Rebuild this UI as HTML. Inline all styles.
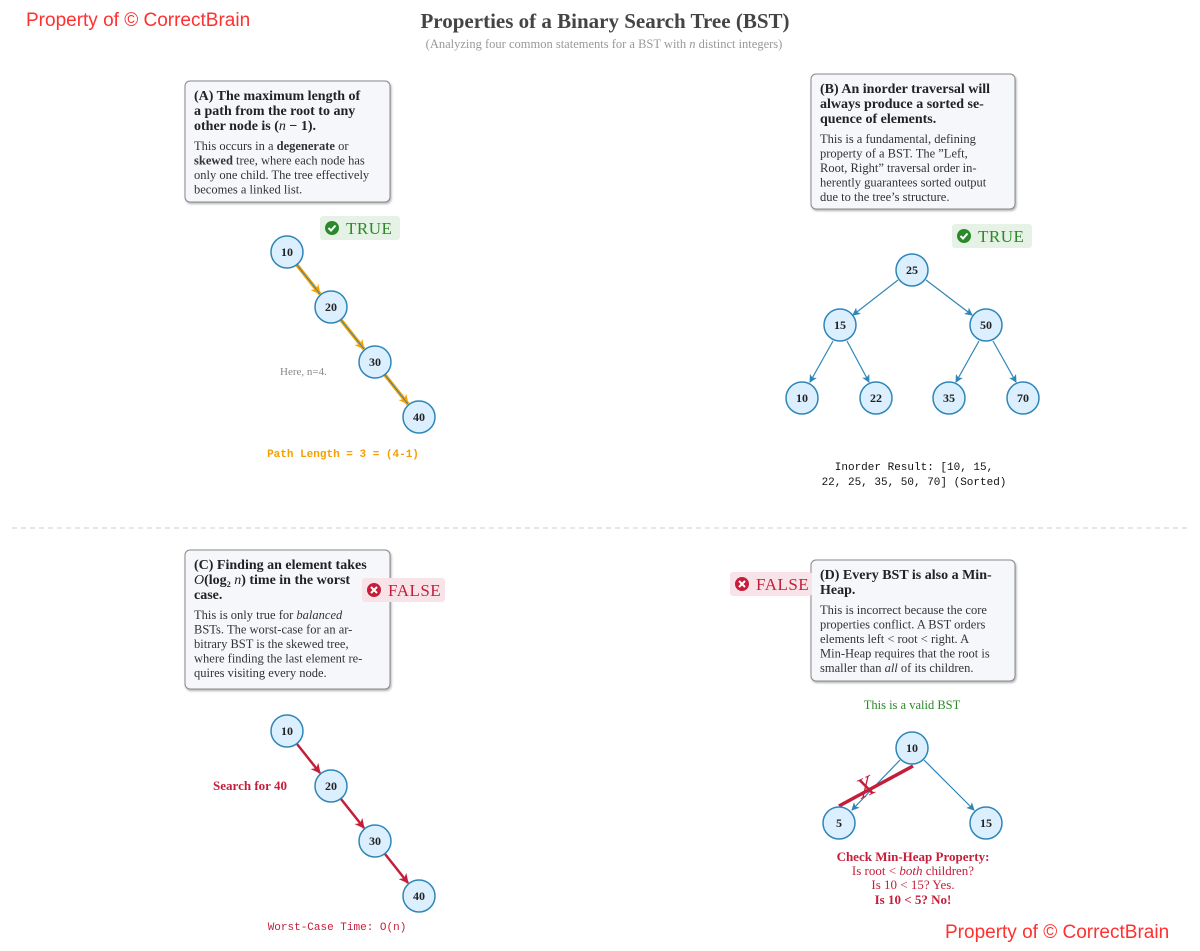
<!DOCTYPE html>
<html><head><meta charset="utf-8"><style>
body{margin:0;background:#fff;}
svg text{font-family:"Liberation Serif",serif;}
</style></head><body>
<svg width="1200" height="946" viewBox="0 0 1200 946" xmlns="http://www.w3.org/2000/svg">
<defs>
<marker id="ab" markerWidth="8" markerHeight="8" refX="7" refY="4" orient="auto" markerUnits="userSpaceOnUse"><path d="M0,0 L8,4 L0,8 L2,4z" fill="#2e86b8"/></marker>
<marker id="ao" markerWidth="10" markerHeight="10" refX="9" refY="5" orient="auto" markerUnits="userSpaceOnUse"><path d="M0,0 L10,5 L0,10 L3,5z" fill="#f5a000"/></marker>
<marker id="ar" markerWidth="10" markerHeight="10" refX="9" refY="5" orient="auto" markerUnits="userSpaceOnUse"><path d="M0,0 L10,5 L0,10 L3,5z" fill="#c41e3a"/></marker>
<filter id="sh"><feDropShadow dx="1" dy="1.5" stdDeviation="1" flood-opacity="0.3"/></filter>
</defs>
<text x="26" y="26" font-size="19" fill="#ff3030" style="font-family:'Liberation Sans',sans-serif">Property of © CorrectBrain</text>
<text x="945" y="938" font-size="19" fill="#ff3030" style="font-family:'Liberation Sans',sans-serif">Property of © CorrectBrain</text>
<text x="605" y="28" text-anchor="middle" font-size="21" font-weight="bold" fill="#444">Properties of a Binary Search Tree (BST)</text>
<text x="604" y="48" text-anchor="middle" font-size="12.5" fill="#999">(Analyzing four common statements for a BST with <tspan font-style="italic">n</tspan> distinct integers)</text>
<line x1="12" y1="528" x2="1188" y2="528" stroke="#ccc" stroke-dasharray="5,4"/>

<g fill="#f5f7fb" stroke="#888" filter="url(#sh)">
<rect x="185" y="81" width="205" height="121" rx="5"/>
<rect x="811" y="74" width="204" height="135" rx="5"/>
<rect x="185" y="550" width="205" height="139" rx="5"/>
<rect x="811" y="560" width="204" height="121" rx="5"/>
</g>
<g font-size="14" fill="#222">
<text x="194" y="100" font-weight="bold"><tspan>(A) The maximum length of</tspan><tspan x="194" dy="15">a path from the root to any</tspan><tspan x="194" dy="15">other node is (<tspan font-style="italic" font-weight="normal">n</tspan> − 1).</tspan></text>
<text x="194" y="150" font-size="12.5" fill="#333"><tspan>This occurs in a <tspan font-weight="bold">degenerate</tspan> or</tspan><tspan x="194" dy="14.5"><tspan font-weight="bold">skewed</tspan> tree, where each node has</tspan><tspan x="194" dy="14.5">only one child.  The tree effectively</tspan><tspan x="194" dy="14.5">becomes a linked list.</tspan></text>

<text x="820" y="93" font-weight="bold"><tspan>(B) An inorder traversal will</tspan><tspan x="820" dy="15">always produce a sorted se-</tspan><tspan x="820" dy="15">quence of elements.</tspan></text>
<text x="820" y="143" font-size="12.5" fill="#333"><tspan>This is a fundamental, defining</tspan><tspan x="820" dy="14.5">property of a BST. The ”Left,</tspan><tspan x="820" dy="14.5">Root, Right” traversal order in-</tspan><tspan x="820" dy="14.5">herently guarantees sorted output</tspan><tspan x="820" dy="14.5">due to the tree’s structure.</tspan></text>

<text x="194" y="569" font-weight="bold"><tspan>(C) Finding an element takes</tspan><tspan x="194" dy="15" font-style="italic" font-weight="normal">O</tspan><tspan>(log</tspan><tspan font-size="8" dy="3">2</tspan><tspan dy="-3"> </tspan><tspan font-style="italic" font-weight="normal">n</tspan><tspan>) time in the worst</tspan><tspan x="194" dy="15">case.</tspan></text>
<text x="194" y="619" font-size="12.5" fill="#333"><tspan>This is only true for <tspan font-style="italic">balanced</tspan></tspan><tspan x="194" dy="14.5">BSTs.  The worst-case for an ar-</tspan><tspan x="194" dy="14.5">bitrary BST is the skewed tree,</tspan><tspan x="194" dy="14.5">where finding the last element re-</tspan><tspan x="194" dy="14.5">quires visiting every node.</tspan></text>

<text x="820" y="579" font-weight="bold"><tspan>(D) Every BST is also a Min-</tspan><tspan x="820" dy="15">Heap.</tspan></text>
<text x="820" y="614" font-size="12.5" fill="#333"><tspan>This is incorrect because the core</tspan><tspan x="820" dy="14.5">properties conflict.  A BST orders</tspan><tspan x="820" dy="14.5">elements left &lt; root &lt; right.  A</tspan><tspan x="820" dy="14.5">Min-Heap requires that the root is</tspan><tspan x="820" dy="14.5">smaller than <tspan font-style="italic">all</tspan> of its children.</tspan></text>
</g>

<rect x="320" y="216" width="80" height="24" rx="3" fill="#e6f2e6"/>
<circle cx="332" cy="228" r="7" fill="#2a8a2a"/><path d="M328.5,228 l2.5,2.5 l4.5,-5" stroke="#fff" stroke-width="2" fill="none"/>
<text x="346" y="234" font-size="17" fill="#2a8a2a" letter-spacing="0.5">TRUE</text>
<rect x="952" y="224" width="80" height="24" rx="3" fill="#e6f2e6"/>
<circle cx="964" cy="236" r="7" fill="#2a8a2a"/><path d="M960.5,236 l2.5,2.5 l4.5,-5" stroke="#fff" stroke-width="2" fill="none"/>
<text x="978" y="242" font-size="17" fill="#2a8a2a" letter-spacing="0.5">TRUE</text>
<rect x="362" y="578" width="83" height="24" rx="3" fill="#f8e4e8"/>
<circle cx="374" cy="590" r="7" fill="#c41e3a"/><path d="M371,587 l6,6 M377,587 l-6,6" stroke="#fff" stroke-width="2"/>
<text x="388" y="596" font-size="17" fill="#c41e3a" letter-spacing="0.5">FALSE</text>
<rect x="730" y="572" width="82" height="24" rx="3" fill="#f8e4e8"/>
<circle cx="742" cy="584" r="7" fill="#c41e3a"/><path d="M739,581 l6,6 M745,581 l-6,6" stroke="#fff" stroke-width="2"/>
<text x="756" y="590" font-size="17" fill="#c41e3a" letter-spacing="0.5">FALSE</text>

<g stroke="#f5a000" stroke-width="3.5" marker-end="url(#ao)">
<line x1="297" y1="265" x2="320" y2="294"/>
<line x1="341" y1="320" x2="364" y2="349"/>
<line x1="385" y1="375" x2="408" y2="404"/>
</g>
<g stroke="#2e86b8" stroke-width="1">
<line x1="297" y1="265" x2="320" y2="294"/><line x1="341" y1="320" x2="364" y2="349"/><line x1="385" y1="375" x2="408" y2="404"/>
</g>
<text x="280" y="375" font-size="11" fill="#888">Here, n=4.</text>
<text x="343" y="457" text-anchor="middle" font-size="11" font-weight="bold" fill="#f5a000" style="font-family:'Liberation Mono',monospace">Path Length = 3 = (4-1)</text>

<g stroke="#2e86b8" stroke-width="1.2" marker-end="url(#ab)">
<line x1="898" y1="280" x2="853" y2="315"/>
<line x1="926" y1="280" x2="972" y2="315"/>
<line x1="833" y1="341" x2="810" y2="382"/>
<line x1="847" y1="341" x2="869" y2="382"/>
<line x1="979" y1="341" x2="956" y2="382"/>
<line x1="993" y1="341" x2="1016" y2="382"/>
</g>
<text x="914" y="470" text-anchor="middle" font-size="11" fill="#111" style="font-family:'Liberation Mono',monospace">Inorder Result: [10, 15,</text>
<text x="914" y="485" text-anchor="middle" font-size="11" fill="#111" style="font-family:'Liberation Mono',monospace">22, 25, 35, 50, 70] (Sorted)</text>

<g stroke="#c41e3a" stroke-width="2.5" marker-end="url(#ar)">
<line x1="297" y1="744" x2="320" y2="773"/>
<line x1="341" y1="799" x2="364" y2="828"/>
<line x1="385" y1="854" x2="408" y2="883"/>
</g>
<text x="250" y="790" text-anchor="middle" font-size="13" font-weight="bold" fill="#c41e3a">Search for 40</text>
<text x="337" y="930" text-anchor="middle" font-size="11" fill="#c41e3a" style="font-family:'Liberation Mono',monospace">Worst-Case Time: O(n)</text>

<text x="912" y="709" text-anchor="middle" font-size="12.5" fill="#2a8a2a">This is a valid BST</text>
<g stroke="#2e86b8" stroke-width="1.2" marker-end="url(#ab)">
<line x1="900" y1="760" x2="852" y2="810"/>
<line x1="924" y1="760" x2="974" y2="810"/>
</g>
<line x1="913" y1="766" x2="839" y2="806" stroke="#c41e3a" stroke-width="3.5"/>
<text x="866" y="796" text-anchor="middle" font-size="28" font-style="italic" fill="#c41e3a" transform="rotate(-25 866 788)">X</text>
<g text-anchor="middle" font-size="13" fill="#c41e3a">
<text x="913" y="861" font-weight="bold">Check Min-Heap Property:</text>
<text x="913" y="875">Is root &lt; <tspan font-style="italic">both</tspan> children?</text>
<text x="913" y="889">Is 10 &lt; 15?  Yes.</text>
<text x="913" y="904" font-weight="bold">Is 10 &lt; 5?  No!</text>
</g>

<g fill="#dcefff" stroke="#2e86b8" stroke-width="1.5">
<circle cx="287" cy="252" r="16"/><circle cx="331" cy="307" r="16"/><circle cx="375" cy="362" r="16"/><circle cx="419" cy="417" r="16"/>
<circle cx="912" cy="270" r="16"/><circle cx="840" cy="325" r="16"/><circle cx="986" cy="325" r="16"/>
<circle cx="802" cy="398" r="16"/><circle cx="876" cy="398" r="16"/><circle cx="949" cy="398" r="16"/><circle cx="1023" cy="398" r="16"/>
<circle cx="287" cy="731" r="16"/><circle cx="331" cy="786" r="16"/><circle cx="375" cy="841" r="16"/><circle cx="419" cy="896" r="16"/>
<circle cx="912" cy="748" r="16"/><circle cx="839" cy="823" r="16"/><circle cx="986" cy="823" r="16"/>
</g>
<g text-anchor="middle" font-size="12" font-weight="bold" fill="#222">
<text x="287" y="256">10</text><text x="331" y="311">20</text><text x="375" y="366">30</text><text x="419" y="421">40</text>
<text x="912" y="274">25</text><text x="840" y="329">15</text><text x="986" y="329">50</text>
<text x="802" y="402">10</text><text x="876" y="402">22</text><text x="949" y="402">35</text><text x="1023" y="402">70</text>
<text x="287" y="735">10</text><text x="331" y="790">20</text><text x="375" y="845">30</text><text x="419" y="900">40</text>
<text x="912" y="752">10</text><text x="839" y="827">5</text><text x="986" y="827">15</text>
</g>
</svg>
</body></html>
